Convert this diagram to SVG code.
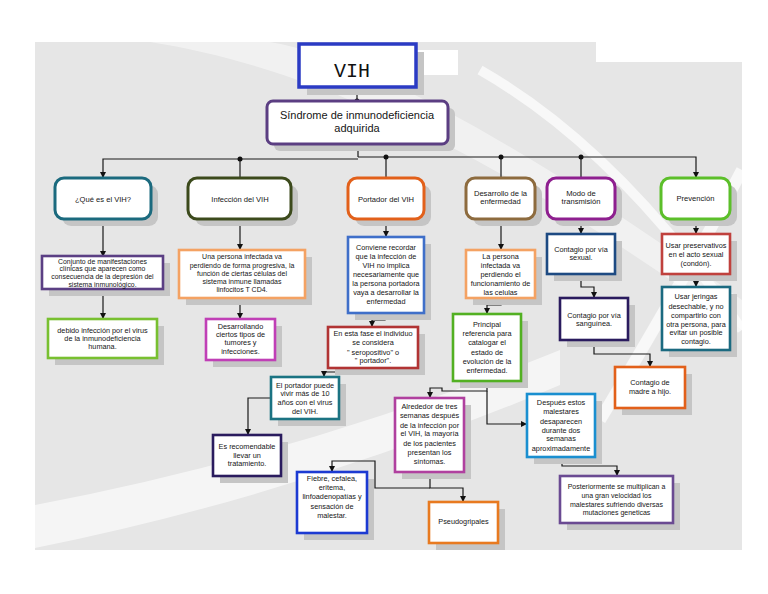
<svg xmlns="http://www.w3.org/2000/svg" width="768" height="594" viewBox="0 0 768 594">
<style>
.t{font-family:"Liberation Sans",Arial,sans-serif;font-size:7.3px;fill:#151515;text-anchor:middle}
.t1{font-family:"Liberation Sans",Arial,sans-serif;font-size:7.6px;fill:#151515;text-anchor:middle}
.sh{fill:#c5c5c5}
.bx{fill:#fff;stroke-width:2.6}
.rb{fill:#fff;stroke-width:3}
.c{fill:none;stroke:#1a1a1a;stroke-width:1.2}
</style>
<defs>
<marker id="ah" viewBox="0 0 8 8" refX="8" refY="4" markerWidth="6" markerHeight="6" markerUnits="userSpaceOnUse" orient="auto"><path d="M0 0L8 4L0 8z" fill="#111"/></marker>
</defs>
<rect width="768" height="594" fill="#fff"/>
<g id="background">
<path d="M35 42H596V62H742V550H35Z" fill="#e6e6e6"/>
<path d="M150 42C330 70 520 170 742 330V300C560 170 380 60 270 42Z" fill="#fff" opacity="0.45"/>
<path d="M480 70Q620 150 742 330" fill="none" stroke="#fff" stroke-width="10" opacity="0.7"/>
<path d="M742 170Q690 270 600 420" fill="none" stroke="#fff" stroke-width="12" opacity="0.7"/>
<path d="M35 505Q300 455 560 350V385Q300 495 35 548Z" fill="#fff" opacity="0.6"/>
<rect x="416" y="50" width="42" height="25" fill="#fff"/>
</g>
<g id="connectors">
<path class="c" d="M357 87V101"/>
<circle cx="357" cy="101" r="2.5" fill="#111"/>
<path class="c" d="M358 157V145" marker-end="url(#ah)"/>
<path class="c" d="M358 159H103V178" marker-end="url(#ah)"/>
<path class="c" d="M358 157H696V178" marker-end="url(#ah)"/>
<path class="c" d="M240 159V178M386 157V178M501 157V178M581 157V178"/>
<circle cx="240" cy="159" r="2.5" fill="#111"/>
<circle cx="386" cy="157" r="2.5" fill="#111"/>
<circle cx="501" cy="157" r="2.5" fill="#111"/>
<circle cx="581" cy="157" r="2.5" fill="#111"/>
<path class="c" d="M103 219V257" marker-end="url(#ah)"/>
<path class="c" d="M103 289V319" marker-end="url(#ah)"/>
<path class="c" d="M240 219V250" marker-end="url(#ah)"/>
<path class="c" d="M240 298V319" marker-end="url(#ah)"/>
<path class="c" d="M386 219V237" marker-end="url(#ah)"/>
<path class="c" d="M385 313V320H372V327" marker-end="url(#ah)"/>
<path class="c" d="M372 368V372H324V377" marker-end="url(#ah)"/>
<path class="c" d="M271 398H248V435" marker-end="url(#ah)"/>
<path class="c" d="M501 219V250" marker-end="url(#ah)"/>
<path class="c" d="M501 298V305H487V314" marker-end="url(#ah)"/>
<path class="c" d="M487 381V391H442V388H430V398" marker-end="url(#ah)"/>
<path class="c" d="M487 391V424H527" marker-end="url(#ah)"/>
<path class="c" d="M430 472V488H463V502" marker-end="url(#ah)"/>
<path class="c" d="M430 488H375V461H332V472" marker-end="url(#ah)"/>
<path class="c" d="M562 457V466H617V476" marker-end="url(#ah)"/>
<path class="c" d="M581 219V234" marker-end="url(#ah)"/>
<path class="c" d="M581 274V287H594V298" marker-end="url(#ah)"/>
<path class="c" d="M594 340V354H650V367" marker-end="url(#ah)"/>
<path class="c" d="M696 219V234" marker-end="url(#ah)"/>
<path class="c" d="M696 274V287" marker-end="url(#ah)"/>
</g>
<g id="vih">
<rect class="sh" x="307" y="52" width="117" height="43"/>
<rect x="299" y="44" width="117" height="43" fill="#fff" stroke="#2b3bc4" stroke-width="3.5"/>
<text x="352" y="77" style="font-family:'Liberation Mono','DejaVu Sans Mono',monospace;font-size:20px;fill:#111;text-anchor:middle">VIH</text>
</g>
<g id="sindrome">
<rect class="sh" x="274" y="108" width="181" height="43" rx="6"/>
<rect x="267" y="101" width="181" height="43" rx="6" fill="#fff" stroke="#5b3e82" stroke-width="3"/>
<text style="font-family:'Liberation Sans',Arial,sans-serif;font-size:11px;fill:#151515;text-anchor:middle"><tspan x="357" y="119">Síndrome de inmunodeficiencia</tspan><tspan x="357" y="132">adquirida</tspan></text>
</g>
<g id="que">
<rect class="sh" x="62" y="185" width="96" height="41" rx="9"/>
<rect class="rb" x="55" y="178" width="96" height="41" rx="9" stroke="#1b6a7e"/>
<text class="t1" x="103" y="201.7">¿Qué es el VIH?</text>
</g>
<g id="infeccion">
<rect class="sh" x="195" y="185" width="103" height="41" rx="9"/>
<rect class="rb" x="188" y="178" width="103" height="41" rx="9" stroke="#3c4a1c"/>
<text class="t1" x="240" y="201.7">Infección del  VIH</text>
</g>
<g id="portador">
<rect class="sh" x="355" y="185" width="76" height="41" rx="9"/>
<rect class="rb" x="348" y="178" width="76" height="41" rx="9" stroke="#e2601a"/>
<text class="t1" x="386" y="201.7">Portador del VIH</text>
</g>
<g id="desarrollo">
<rect class="sh" x="473" y="185" width="69" height="41" rx="9"/>
<rect class="rb" x="466" y="178" width="69" height="41" rx="9" stroke="#8d6b3e"/>
<text class="t1"><tspan x="500.5" y="196">Desarrollo de la</tspan><tspan x="500.5" y="204.4">enfermedad</tspan></text>
</g>
<g id="modo">
<rect class="sh" x="554" y="185" width="68" height="41" rx="9"/>
<rect class="rb" x="547" y="178" width="68" height="41" rx="9" stroke="#8e1f8f"/>
<text class="t1"><tspan x="581" y="196">Modo de</tspan><tspan x="581" y="204.4">transmisión</tspan></text>
</g>
<g id="prevencion">
<rect class="sh" x="668" y="185" width="69" height="41" rx="9"/>
<rect class="rb" x="661" y="178" width="69" height="41" rx="9" stroke="#5cbf2a"/>
<text class="t1" x="695.5" y="201">Prevención</text>
</g>
<g id="conjunto">
<rect class="sh" x="49" y="263" width="121" height="33"/>
<rect class="bx" x="42" y="256" width="121" height="33" stroke="#5b3f84"/>
<text class="t" style="font-size:6.9px"><tspan x="102.5" y="263.8">Conjunto de manifestaciones</tspan><tspan x="102.5" y="271.4">clínicas que aparecen como</tspan><tspan x="102.5" y="279">consecuencia de la depresión del</tspan><tspan x="102.5" y="286.6">sistema inmunológico.</tspan></text>
</g>
<g id="debido">
<rect class="sh" x="55" y="326" width="109" height="39"/>
<rect class="bx" x="48" y="319" width="109" height="39" stroke="#78c030"/>
<text class="t"><tspan x="102.5" y="333.2">debido infección por el virus</tspan><tspan x="102.5" y="341.1">de la inmunodeficiencia</tspan><tspan x="102.5" y="349">humana.</tspan></text>
</g>
<g id="una-persona">
<rect class="sh" x="186" y="257" width="126" height="48"/>
<rect class="bx" x="179" y="250" width="126" height="48" stroke="#f4a263"/>
<text class="t" style="font-size:7px"><tspan x="242" y="259.4">Una persona infectada va</tspan><tspan x="242" y="267.6">perdiendo de forma progresiva, la</tspan><tspan x="242" y="275.8">función de ciertas células del</tspan><tspan x="242" y="284">sistema inmune llamadas</tspan><tspan x="242" y="292.2">linfocitos T CD4.</tspan></text>
</g>
<g id="desarrollando">
<rect class="sh" x="213" y="326" width="69" height="41"/>
<rect class="bx" x="206" y="319" width="69" height="41" stroke="#c03fb6"/>
<text class="t"><tspan x="240.5" y="328.6">Desarrollando</tspan><tspan x="240.5" y="337">ciertos tipos de</tspan><tspan x="240.5" y="345.4">tumores y</tspan><tspan x="240.5" y="353.8">infecciones.</tspan></text>
</g>
<g id="conviene">
<rect class="sh" x="355" y="244" width="76" height="76"/>
<rect class="bx" x="348" y="237" width="76" height="76" stroke="#3f6fc9"/>
<text class="t"><tspan x="386" y="250">Conviene recordar</tspan><tspan x="386" y="258.8">que la infección de</tspan><tspan x="386" y="267.6">VIH no implica</tspan><tspan x="386" y="276.6">necesariamente que</tspan><tspan x="386" y="285.8">la persona portadora</tspan><tspan x="386" y="294.8">vaya a desarrollar la</tspan><tspan x="386" y="303.6">enfermedad</tspan></text>
</g>
<g id="en-esta-fase">
<rect class="sh" x="335" y="334" width="90" height="41"/>
<rect class="bx" x="328" y="327" width="90" height="41" stroke="#b13434"/>
<text class="t"><tspan x="373" y="336">En esta fase el individuo</tspan><tspan x="373" y="345.3">se considera</tspan><tspan x="373" y="354.6">" seropositivo" o</tspan><tspan x="373" y="363.3">" portador".</tspan></text>
</g>
<g id="el-portador">
<rect class="sh" x="278" y="384" width="68" height="42"/>
<rect class="bx" x="271" y="377" width="68" height="42" stroke="#1b7382"/>
<text class="t"><tspan x="305" y="387.6">El portador puede</tspan><tspan x="305" y="396.2">vivir más de 10</tspan><tspan x="305" y="405.2">años con el virus</tspan><tspan x="305" y="414.2">del VIH.</tspan></text>
</g>
<g id="es-recomendable">
<rect class="sh" x="220" y="442" width="68" height="41"/>
<rect class="bx" x="213" y="435" width="68" height="41" stroke="#2a1b5e"/>
<text class="t"><tspan x="247" y="448.6">Es recomendable</tspan><tspan x="247" y="457.6">llevar un</tspan><tspan x="247" y="466.3">tratamiento.</tspan></text>
</g>
<g id="la-persona">
<rect class="sh" x="473" y="257" width="69" height="48"/>
<rect class="bx" x="466" y="250" width="69" height="48" stroke="#f4a263"/>
<text class="t"><tspan x="500.5" y="259.3">La persona</tspan><tspan x="500.5" y="268">infectada va</tspan><tspan x="500.5" y="277">perdiendo el</tspan><tspan x="500.5" y="286">funcionamiento de</tspan><tspan x="500.5" y="295">las celulas</tspan></text>
</g>
<g id="principal">
<rect class="sh" x="460" y="321" width="68" height="67"/>
<rect class="bx" x="453" y="314" width="68" height="67" stroke="#52b022"/>
<text class="t"><tspan x="487" y="326.6">Principal</tspan><tspan x="487" y="336">referencia para</tspan><tspan x="487" y="345.3">catalogar el</tspan><tspan x="487" y="354.6">estado de</tspan><tspan x="487" y="364">evolución de la</tspan><tspan x="487" y="373.3">enfermedad.</tspan></text>
</g>
<g id="alrededor">
<rect class="sh" x="402" y="405" width="69" height="74"/>
<rect class="bx" x="395" y="398" width="69" height="74" stroke="#b0409f"/>
<text class="t"><tspan x="429.5" y="409.3">Alrededor de tres</tspan><tspan x="429.5" y="418.3">semanas después</tspan><tspan x="429.5" y="427.6">de la infección por</tspan><tspan x="429.5" y="436.4">el VIH, la mayoría</tspan><tspan x="429.5" y="446">de los pacientes</tspan><tspan x="429.5" y="455">presentan los</tspan><tspan x="429.5" y="464.3">síntomas.</tspan></text>
</g>
<g id="fiebre">
<rect class="sh" x="304" y="479" width="70" height="61"/>
<rect class="bx" x="297" y="472" width="70" height="61" stroke="#1c3ad2"/>
<text class="t"><tspan x="332" y="481">Fiebre, cefalea,</tspan><tspan x="332" y="490.3">eritema,</tspan><tspan x="332" y="499.3">linfoadenopatías y</tspan><tspan x="332" y="508.6">sensación de</tspan><tspan x="332" y="517.6">malestar.</tspan></text>
</g>
<g id="pseudogripales">
<rect class="sh" x="436" y="509" width="69" height="41"/>
<rect class="bx" x="429" y="502" width="69" height="41" stroke="#e87a20"/>
<text class="t" x="463.5" y="524.3">Pseudogripales</text>
</g>
<g id="despues">
<rect class="sh" x="534" y="401" width="68" height="63"/>
<rect class="bx" x="527" y="394" width="68" height="63" stroke="#1a8fd0"/>
<text class="t"><tspan x="561" y="405">Después estos</tspan><tspan x="561" y="414">malestares</tspan><tspan x="561" y="423.6">desaparecen</tspan><tspan x="561" y="432.6">durante dos</tspan><tspan x="561" y="441.2">semanas</tspan><tspan x="561" y="451">aproximadamente</tspan></text>
</g>
<g id="posteriormente">
<rect class="sh" x="567" y="483" width="113" height="47"/>
<rect class="bx" x="560" y="476" width="113" height="47" stroke="#6a4a92"/>
<text class="t" style="font-size:7px"><tspan x="616.5" y="488.6">Posteriormente se multiplican a</tspan><tspan x="616.5" y="497.6">una gran velocidad los</tspan><tspan x="616.5" y="506.6">malestares sufriendo diversas</tspan><tspan x="616.5" y="515.2">mutaciones geneticas</tspan></text>
</g>
<g id="contagio-sexual">
<rect class="sh" x="554" y="241" width="68" height="40"/>
<rect class="bx" x="547" y="234" width="68" height="40" stroke="#1d4a82"/>
<text class="t"><tspan x="581" y="251.6">Contagio por vía</tspan><tspan x="581" y="260">sexual.</tspan></text>
</g>
<g id="contagio-sanguinea">
<rect class="sh" x="567" y="305" width="68" height="42"/>
<rect class="bx" x="560" y="298" width="68" height="42" stroke="#2a1b5e"/>
<text class="t"><tspan x="594" y="317.6">Contagio por vía</tspan><tspan x="594" y="326">sanguínea.</tspan></text>
</g>
<g id="contagio-madre">
<rect class="sh" x="622" y="374" width="70" height="41"/>
<rect class="bx" x="615" y="367" width="70" height="41" stroke="#e2601a"/>
<text class="t"><tspan x="650" y="385.3">Contagio de</tspan><tspan x="650" y="394.3">madre a hijo.</tspan></text>
</g>
<g id="preservativos">
<rect class="sh" x="669" y="241" width="68" height="40"/>
<rect class="bx" x="662" y="234" width="68" height="40" stroke="#c0413d"/>
<text class="t"><tspan x="696" y="247.6">Usar preservativos</tspan><tspan x="696" y="256.6">en el acto sexual</tspan><tspan x="696" y="265.6">(condón).</tspan></text>
</g>
<g id="jeringas">
<rect class="sh" x="669" y="294" width="68" height="63"/>
<rect class="bx" x="662" y="287" width="68" height="63" stroke="#1b6a80"/>
<text class="t"><tspan x="696" y="299.3">Usar jeringas</tspan><tspan x="696" y="308.6">desechable, y  no</tspan><tspan x="696" y="317.6">compartirlo con</tspan><tspan x="696" y="326.6">otra persona, para</tspan><tspan x="696" y="335.3">evitar un posible</tspan><tspan x="696" y="344.3">contagio.</tspan></text>
</g>
</svg>
